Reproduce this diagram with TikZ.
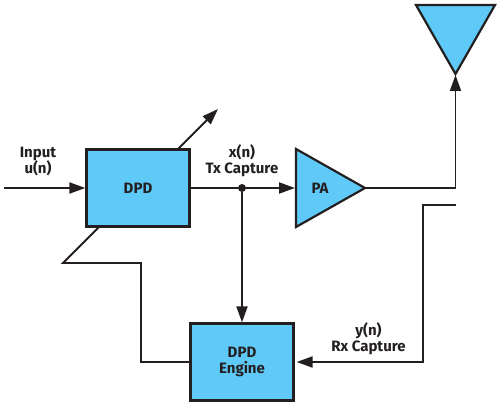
\documentclass[tikz,border=0pt]{standalone}
\usepackage{fontspec}
\setmainfont{Fira Sans}
\usetikzlibrary{arrows.meta}
\definecolor{fillblue}{HTML}{5FCAF7}
\definecolor{ink}{HTML}{231F20}
\tikzset{
  block/.style={draw=ink,fill=fillblue,line width=2.2pt,minimum width=103pt,minimum height=77pt,inner sep=0pt,align=center,font=\fontsize{15}{16.5}\selectfont\bfseries,text=ink},
  tri/.style={draw=ink,fill=fillblue,line width=2.2pt,line join=miter},
  wire/.style={draw=ink,line width=1.9pt},
  arrow/.style={wire,-{Triangle[length=16pt,width=11pt]}},
  lab/.style={inner sep=0pt,align=center,font=\fontsize{15}{16.5}\selectfont\bfseries,text=ink},
  dot/.style={circle,fill=ink,inner sep=0pt,minimum size=8pt}
}
\begin{document}
\begin{tikzpicture}[x=1pt,y=-1pt]
\useasboundingbox (0,0) rectangle (500,406);
\node[block] (dpd) at (138,188) {DPD};
\node[block] (eng) at (242,362) {DPD\\Engine};
\filldraw[tri] (296,149) -- (365,188) -- (296,227) -- cycle;
\coordinate (paIn) at (295,188);
\coordinate (paOut) at (365,188);
\node[lab] at (320,188) {PA};
\filldraw[tri] (416,5) -- (495,5) -- (455.5,74) -- cycle;
\coordinate (ant) at (455.5,75);
\coordinate (inp) at (4,188);
\coordinate (tap) at (242,188);
\coordinate (corner) at (455.5,188);
\coordinate (adjE) at (218,109);
\coordinate (adjS) at (178,149);
\coordinate (fb1) at (63,263);
\coordinate (fb2) at (141,263);
\coordinate (fb3) at (141,362);
\coordinate (fb0) at (99,227);
\coordinate (rx1) at (456,205);
\coordinate (rx2) at (423,205);
\coordinate (rx3) at (423,362);
\draw[arrow] (inp) -- (dpd.west);
\draw[arrow] (dpd.east) -- (paIn);
\node[dot] (tapdot) at (tap) {};
\draw[arrow] (tapdot) -- (eng.north);
\draw[wire,line join=miter] (paOut) -- (corner);
\draw[arrow] (corner) -- (ant);
\draw[arrow] (adjS) -- (adjE);
\draw[wire,line join=miter] (fb0) -- (fb1) -- (fb2) -- (fb3) -- (eng.west);
\draw[arrow,line join=miter] (rx1) -- (rx2) -- (rx3) -- ([xshift=2pt]eng.east);
\node[lab] at (38,161.5) {Input\\u(n)};
\node[lab] at (242,160.5) {x(n)\\Tx Capture};
\node[lab] at (368.5,338.5) {y(n)\\Rx Capture};
\end{tikzpicture}
\end{document}
